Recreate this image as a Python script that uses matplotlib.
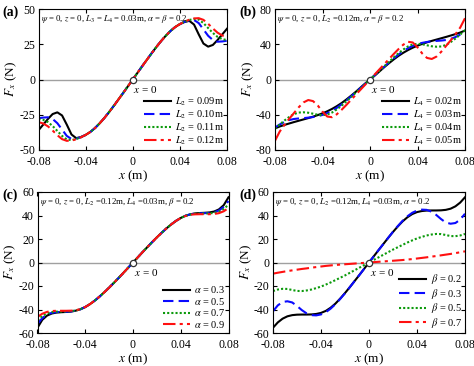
import numpy as np
import matplotlib.pyplot as plt

plt.rcParams['font.family'] = ['Liberation Serif', 'DejaVu Serif']
plt.rcParams['mathtext.fontset'] = 'stix'
plt.rcParams['axes.unicode_minus'] = False

# sample positions (m)
x = np.round(np.arange(-0.08, 0.0801, 0.004), 3)

# (a) varying L2
a_black = [-36.0, -32.0, -28.0, -24.5, -23.3, -25.5, -32.0, -39.0, -41.6, -40.8, -39.3, -37.2, -34.4, -31.0, -27.2, -23.0, -18.6, -14.0, -9.4, -4.7,
           0, 4.7, 9.4, 14.0, 18.6, 23.0, 27.2, 31.0, 34.4, 37.2, 39.3, 40.8, 41.6, 39.0, 32.0, 25.5, 23.3, 24.5, 28.0, 32.0, 36.0]
a_blue = [-27.5, -27.0, -26.8, -28.0, -31.0, -35.5, -40.0, -42.2, -41.9, -40.9, -39.3, -37.2, -34.4, -31.0, -27.2, -23.0, -18.6, -14.0, -9.4, -4.7,
          0, 4.7, 9.4, 14.0, 18.6, 23.0, 27.2, 31.0, 34.4, 37.2, 39.3, 40.9, 41.9, 42.2, 40.0, 35.5, 31.0, 28.0, 26.8, 27.0, 27.5]
a_green = [-28.0, -28.6, -30.2, -33.0, -36.5, -40.0, -42.5, -43.0, -42.2, -41.0, -39.3, -37.2, -34.4, -31.0, -27.2, -23.0, -18.6, -14.0, -9.4, -4.7,
           0, 4.7, 9.4, 14.0, 18.6, 23.0, 27.2, 31.0, 34.4, 37.2, 39.3, 41.0, 42.2, 43.0, 42.5, 40.0, 36.5, 33.0, 30.2, 28.6, 28.0]
a_red = [-30.2, -31.2, -33.2, -36.2, -39.5, -42.3, -43.5, -43.3, -42.4, -41.0, -39.3, -37.2, -34.4, -31.0, -27.2, -23.0, -18.6, -14.0, -9.4, -4.7,
         0, 4.7, 9.4, 14.0, 18.6, 23.0, 27.2, 31.0, 34.4, 37.2, 39.3, 41.0, 42.4, 43.3, 43.5, 42.3, 39.5, 36.2, 33.2, 31.2, 30.2]

# (b) varying L4
b_black = [-55.5, -53.3, -51.5, -49.9, -48.3, -46.8, -45.3, -43.8, -42.2, -40.4, -38.4, -36.1, -33.4, -30.3, -26.8, -22.8, -18.5, -14.0, -9.2, -4.5,
           0, 4.5, 9.2, 14.0, 18.5, 22.8, 26.8, 30.3, 33.4, 36.1, 38.4, 40.4, 42.2, 43.8, 45.3, 46.8, 48.3, 49.9, 51.5, 53.3, 55.5]
b_blue = [-54.5, -51.0, -48.2, -46.0, -44.8, -44.2, -43.8, -43.3, -42.6, -41.6, -40.2, -38.2, -35.5, -32.2, -28.3, -24.0, -19.3, -14.5, -9.6, -4.8,
          0, 4.8, 9.6, 14.5, 19.3, 24.0, 28.3, 32.2, 35.5, 38.2, 40.2, 41.6, 42.6, 43.3, 43.8, 44.2, 44.8, 46.0, 48.2, 51.0, 54.5]
b_green = [-56.0, -51.0, -46.5, -42.5, -39.2, -37.5, -37.2, -37.7, -38.8, -40.0, -40.5, -39.8, -37.5, -34.0, -29.8, -25.0, -20.0, -15.0, -10.0, -5.0,
           0, 5.0, 10.0, 15.0, 20.0, 25.0, 29.8, 34.0, 37.5, 39.8, 40.5, 40.0, 38.8, 37.7, 37.2, 37.5, 39.2, 42.5, 46.5, 51.0, 56.0]
b_red = [-69.5, -59.0, -51.5, -44.5, -38.0, -31.5, -26.0, -23.3, -24.5, -29.5, -36.5, -42.0, -42.8, -39.5, -34.5, -29.0, -23.2, -17.4, -11.6, -5.8,
         0, 5.8, 11.6, 17.4, 23.2, 29.0, 34.5, 39.5, 42.8, 42.0, 36.5, 29.5, 24.5, 23.3, 26.0, 31.5, 38.0, 44.5, 51.5, 59.0, 69.5]

# (c) varying alpha
c_black = [-55.5, -48.8, -45.2, -43.4, -42.6, -42.3, -42.1, -41.8, -41.0, -39.8, -37.9, -35.4, -32.4, -29.0, -25.3, -21.4, -17.3, -13.1, -8.8, -4.4,
           0, 4.4, 8.8, 13.1, 17.3, 21.4, 25.3, 29.0, 32.4, 35.4, 37.9, 39.8, 41.0, 41.8, 42.1, 42.3, 42.6, 43.4, 45.2, 48.8, 55.5]
c_blue = [-52.3, -47.3, -44.3, -42.8, -42.2, -42.0, -41.9, -41.6, -41.0, -39.8, -37.9, -35.4, -32.4, -29.0, -25.3, -21.4, -17.3, -13.1, -8.8, -4.4,
          0, 4.4, 8.8, 13.1, 17.3, 21.4, 25.3, 29.0, 32.4, 35.4, 37.9, 39.8, 41.0, 41.6, 41.9, 42.0, 42.2, 42.8, 44.3, 47.3, 52.3]
c_green = [-49.3, -45.5, -43.3, -42.2, -41.8, -41.7, -41.6, -41.4, -40.9, -39.7, -37.9, -35.4, -32.4, -29.0, -25.3, -21.4, -17.3, -13.1, -8.8, -4.4,
           0, 4.4, 8.8, 13.1, 17.3, 21.4, 25.3, 29.0, 32.4, 35.4, 37.9, 39.7, 40.9, 41.4, 41.6, 41.7, 41.8, 42.2, 43.3, 45.5, 49.3]
c_red = [-46.3, -43.6, -42.0, -41.3, -41.1, -41.1, -41.1, -41.0, -40.7, -39.6, -37.9, -35.4, -32.4, -29.0, -25.3, -21.4, -17.3, -13.1, -8.8, -4.4,
         0, 4.4, 8.8, 13.1, 17.3, 21.4, 25.3, 29.0, 32.4, 35.4, 37.9, 39.6, 40.7, 41.0, 41.1, 41.1, 41.1, 41.3, 42.0, 43.6, 46.3]

# (d) varying beta
d_black = [-55.5, -51.0, -47.8, -45.8, -44.8, -44.4, -44.3, -44.3, -44.2, -43.8, -42.9, -41.2, -38.5, -35.0, -30.7, -26.0, -21.0, -15.8, -10.6, -5.3,
           0, 5.3, 10.6, 15.8, 21.0, 26.0, 30.7, 35.0, 38.5, 41.2, 42.9, 43.8, 44.2, 44.3, 44.3, 44.4, 44.8, 45.8, 47.8, 51.0, 55.5]
d_blue = [-41.5, -36.5, -33.6, -33.0, -34.0, -37.0, -40.5, -43.3, -44.8, -45.0, -44.2, -42.3, -39.3, -35.5, -31.0, -26.2, -21.0, -15.8, -10.6, -5.3,
          0, 5.3, 10.6, 15.8, 21.0, 26.2, 31.0, 35.5, 39.3, 42.3, 44.2, 45.0, 44.8, 43.3, 40.5, 37.0, 34.0, 33.0, 33.6, 36.5, 41.5]
d_green = [-24.3, -23.0, -22.4, -22.5, -23.4, -24.2, -24.3, -23.8, -23.0, -21.8, -20.5, -18.8, -17.0, -15.0, -13.0, -11.0, -8.8, -6.6, -4.4, -2.2,
           0, 2.2, 4.4, 6.6, 8.8, 11.0, 13.0, 15.0, 17.0, 18.8, 20.5, 21.8, 23.0, 23.8, 24.3, 24.2, 23.4, 22.5, 22.4, 23.0, 24.3]
d_red = [-9.5, -8.7, -8.0, -7.3, -6.7, -6.1, -5.5, -5.0, -4.4, -3.9, -3.4, -2.9, -2.5, -2.1, -1.8, -1.5, -1.2, -0.9, -0.6, -0.3,
         0, 0.3, 0.6, 0.9, 1.2, 1.5, 1.8, 2.1, 2.5, 2.9, 3.4, 3.9, 4.4, 5.0, 5.5, 6.1, 6.7, 7.3, 8.0, 8.7, 9.5]

a_labels = ['$L_2$ = 0.09m', '$L_2$ = 0.10m', '$L_2$ = 0.11m', '$L_2$ = 0.12m']
b_labels = ['$L_4$ = 0.02m', '$L_4$ = 0.03m', '$L_4$ = 0.04m', '$L_4$ = 0.05m']
c_labels = [r'$\alpha$ = 0.3', r'$\alpha$ = 0.5', r'$\alpha$ = 0.7', r'$\alpha$ = 0.9']
d_labels = [r'$\beta$ = 0.2', r'$\beta$ = 0.3', r'$\beta$ = 0.5', r'$\beta$ = 0.7']

colors = ['black', '#0a0aff', '#0c9a0c', '#ff1010']
styles = ['-', (0, (5, 2.5)), (0, (1, 1)), (0, (6, 2, 1.5, 2))]


def draw(ax, series, labels, ylim, yticks, note):
    ax.axhline(0, color='#a0a0a0', lw=1.0, zorder=0)
    for y, lab, c, ls in zip(series, labels, colors, styles):
        ax.plot(x, y, color=c, ls=ls, lw=1.5, label=lab)
    ax.plot(0, 0, 'o', mfc='white', mec='#333333', mew=0.9, ms=4.5, zorder=5)
    ax.annotate('$x$ = 0', (0, 0), xytext=(0.5, -3), textcoords='offset points',
                ha='left', va='top', fontsize=8)
    ax.text(0.012, 0.975, note, transform=ax.transAxes, va='top', ha='left', fontsize=6.3)
    ax.set_xlim(-0.08, 0.08)
    ax.set_ylim(*ylim)
    ax.set_xticks([-0.08, -0.04, 0, 0.04, 0.08])
    ax.set_xticklabels(['-0.08', '-0.04', '0', '0.04', '0.08'])
    ax.set_yticks(yticks)
    ax.tick_params(direction='in', top=True, right=True, length=3, width=0.8, labelsize=8.5)
    ax.tick_params(axis='x', pad=4)
    ax.tick_params(axis='y', pad=2.5)
    for s in ax.spines.values():
        s.set_linewidth(0.8)
    ax.set_xlabel('$x$ (m)', fontsize=9.5, labelpad=1)
    ax.set_ylabel('$F_x$ (N)', fontsize=9.5, labelpad=0)
    ax.legend(loc='lower right', frameon=False, fontsize=7.5, handlelength=2.6,
              labelspacing=0.05, handletextpad=0.4, borderpad=0.1, borderaxespad=0.2)


W, H = 474, 366
fig = plt.figure(figsize=(W / 100, H / 100), dpi=100)

ax_a = fig.add_axes([38.5 / W, (H - 150) / H, 188.5 / W, 141 / H])
ax_b = fig.add_axes([275 / W, (H - 150) / H, 190 / W, 141 / H])
ax_c = fig.add_axes([37.5 / W, (H - 333) / H, 191 / W, 141 / H])
ax_d = fig.add_axes([273 / W, (H - 333) / H, 192 / W, 141 / H])

draw(ax_a, [a_black, a_blue, a_green, a_red], a_labels, (-50, 50), [-50, -25, 0, 25, 50],
     r'$\psi$ = 0, $z$ = 0, $L_3$ = $L_4$ = 0.03m, $\alpha$ = $\beta$ = 0.2')
draw(ax_b, [b_black, b_blue, b_green, b_red], b_labels, (-80, 80), [-80, -40, 0, 40, 80],
     r'$\psi$ = 0, $z$ = 0, $L_2$ =0.12m, $\alpha$ = $\beta$ = 0.2')
draw(ax_c, [c_black, c_blue, c_green, c_red], c_labels, (-60, 60), [-60, -40, -20, 0, 20, 40, 60],
     r'$\psi$ = 0, $z$ = 0, $L_2$ =0.12m, $L_4$ =0.03m, $\beta$ = 0.2')
draw(ax_d, [d_black, d_blue, d_green, d_red], d_labels, (-60, 60), [-60, -40, -20, 0, 20, 40, 60],
     r'$\psi$ = 0, $z$ = 0, $L_2$ =0.12m, $L_4$ =0.03m, $\alpha$ = 0.2')

for lab, px, py in [('(a)', 2, 12), ('(b)', 239, 12), ('(c)', 2, 195), ('(d)', 239, 195)]:
    fig.text(px / W, 1 - py / H, lab, fontsize=10, fontweight='bold', va='center', ha='left')

fig.savefig('out.png', dpi=100)
